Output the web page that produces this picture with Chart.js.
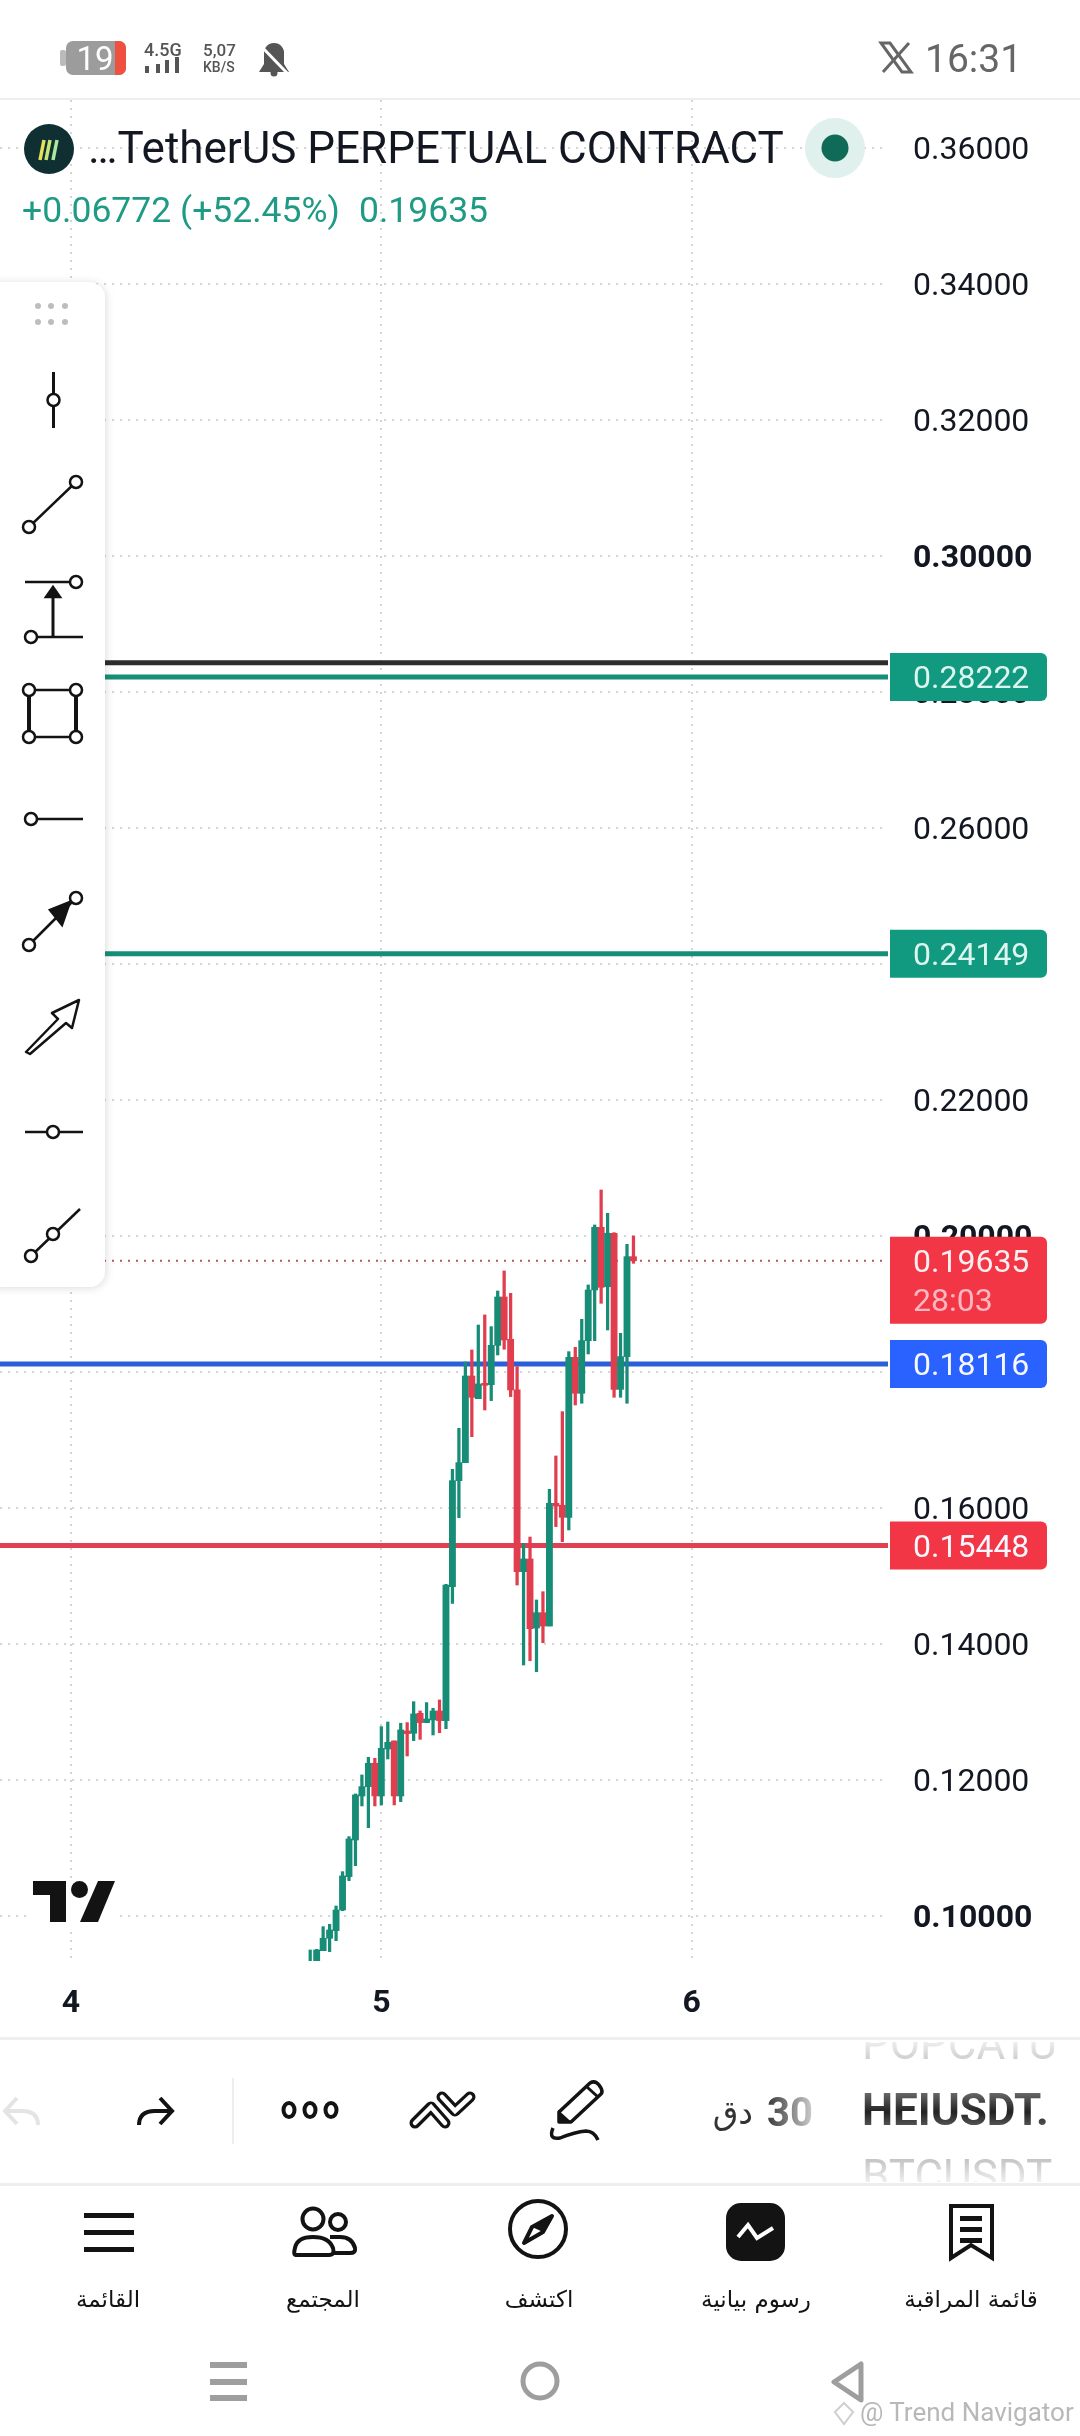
<!DOCTYPE html>
<html>
<head>
    <meta charset="utf-8" lang="ar">
    <title>TetherUS PERPETUAL CONTRACT</title>
    <script src="https://cdn.jsdelivr.net/npm/chart.js@4/dist/chart.umd.min.js"></script>
    <style>
        html, body { margin: 0; padding: 0; background: #fff; }
        #page { position: relative; width: 1080px; height: 2436px; overflow: hidden; font-family: Roboto, sans-serif; }
        #priceChart { position: absolute; left: 0; top: 0; }
        #chrome { position: absolute; left: 0; top: 0; pointer-events: none; }
    </style>
</head>
<body>
<div id="page">
    <canvas id="priceChart" width="1080" height="2038"></canvas>
    <svg id="chrome" width="1080" height="2436" viewBox="0 0 1080 2436">
        <defs>
            <linearGradient id="fadeTf" gradientUnits="userSpaceOnUse" x1="765" y1="0" x2="818" y2="0">
                <stop offset="0" stop-color="#333"/><stop offset="1" stop-color="#ddd"/>
            </linearGradient>
            <linearGradient id="fadePick" gradientUnits="userSpaceOnUse" x1="0" y1="2042" x2="0" y2="2182">
                <stop offset="0" stop-color="#eee"/><stop offset="0.2" stop-color="#bbb"/>
                <stop offset="0.5" stop-color="#222"/>
                <stop offset="0.8" stop-color="#bbb"/><stop offset="1" stop-color="#eee"/>
            </linearGradient>
            <clipPath id="pickClip"><rect x="850" y="2042" width="220" height="140"/></clipPath>
            <filter id="soft" x="-30%" y="-5%" width="160%" height="110%">
                <feDropShadow dx="1" dy="1" stdDeviation="4" flood-color="#000" flood-opacity="0.14"/>
            </filter>
        </defs>

        <!-- status bar -->
        <rect x="60" y="50" width="6" height="16" rx="2" fill="#bbb"/>
        <rect x="66" y="41" width="60" height="34" rx="7" fill="#9c9c9c"/>
        <path d="M115 41 h4 a7 7 0 0 1 7 7 v20 a7 7 0 0 1 -7 7 h-4 z" fill="#f0503f"/>
        <text x="95" y="70" font-size="33" fill="#fff" text-anchor="middle">19</text>
        <text x="144" y="56" font-size="18" font-weight="500" fill="#555">4.5G</text>
        <g fill="#555">
            <rect x="145" y="66" width="4" height="7"/><rect x="156" y="64" width="4" height="9"/>
            <rect x="165" y="60" width="4" height="13"/><rect x="175" y="57" width="4" height="16"/>
        </g>
        <text x="203" y="56" font-size="17" font-weight="500" fill="#555">5,07</text>
        <text x="203" y="72" font-size="14" font-weight="500" fill="#555">KB/S</text>
        <path d="M259 72 h30 l-5 -8 v-10 a10 10 0 0 0 -10 -11 a10 10 0 0 0 -10 11 v10 z" fill="#555"/>
        <line x1="258" y1="43" x2="288" y2="74" stroke="#fff" stroke-width="3"/>
        <circle cx="274" cy="73" r="3.5" fill="#555"/>
        <path d="M881 43 h9 l21 29 h-9 z" fill="none" stroke="#666" stroke-width="3"/>
        <line x1="909" y1="43" x2="883" y2="72" stroke="#666" stroke-width="3"/>
        <text x="925" y="72" font-size="39" fill="#666">16:31</text>
        <rect x="0" y="98" width="1080" height="2" fill="#eeeeee"/>

        <!-- header -->
        <circle cx="49" cy="149" r="25" fill="#0f2f33"/>
        <g stroke-width="3.5" fill="none">
            <line x1="44" y1="140" x2="40" y2="160" stroke="#e6e35a"/>
            <line x1="50" y1="140" x2="46" y2="160" stroke="#c7e878"/>
            <line x1="57" y1="140" x2="53" y2="160" stroke="#a8e8a0"/>
        </g>
        <text x="88" y="163" font-size="44" fill="#131722">…TetherUS PERPETUAL CONTRACT</text>
        <circle cx="835" cy="148" r="30" fill="#dff0ed"/>
        <circle cx="835" cy="148" r="13.5" fill="#0f6b57"/>
        <text x="22" y="222" font-size="35.5" fill="#1f9a84">+0.06772 (+52.45%)</text>
        <text x="359" y="222" font-size="35.5" fill="#1f9a84">0.19635</text>

        <!-- drawing toolbar -->
        <rect x="-20" y="282" width="125" height="1005" rx="16" fill="#fff" filter="url(#soft)"/>
        <g fill="#bdbdbd">
            <circle cx="38" cy="306" r="3"/><circle cx="51" cy="306" r="3"/><circle cx="65" cy="306" r="3"/>
            <circle cx="38" cy="322" r="3"/><circle cx="51" cy="322" r="3"/><circle cx="65" cy="322" r="3"/>
        </g>
        <g stroke="#131313" stroke-width="2.5" fill="#fff">
            <line x1="53.5" y1="372" x2="53.5" y2="428" stroke-width="3"/><circle cx="53.5" cy="400" r="6"/>
            <line x1="29" y1="527" x2="76" y2="482"/><circle cx="29" cy="527" r="6"/><circle cx="76" cy="482" r="6"/>
            <line x1="25" y1="582" x2="76" y2="582"/><circle cx="76" cy="582" r="6"/>
            <line x1="31" y1="637" x2="83" y2="637"/><circle cx="31" cy="637" r="6"/>
            <line x1="53" y1="637" x2="53" y2="595" stroke-width="3"/>
            <path d="M46 597 L53 587 L60 597 Z" fill="#131313"/>
            <rect x="29" y="690" width="47" height="47" fill="none"/>
            <line x1="29" y1="690" x2="29" y2="737" stroke-width="4"/><line x1="76" y1="690" x2="76" y2="737" stroke-width="4"/>
            <circle cx="29" cy="690" r="6"/><circle cx="76" cy="690" r="6"/><circle cx="29" cy="737" r="6"/><circle cx="76" cy="737" r="6"/>
            <line x1="31" y1="819" x2="83" y2="819"/><circle cx="31" cy="819" r="6"/>
            <line x1="29" y1="945" x2="76" y2="898"/><circle cx="29" cy="945" r="6"/>
            <path d="M50 910 L70 902 L62 925 Z" fill="#131313"/><circle cx="76" cy="898" r="6"/>
            <path d="M26 1052 L58 1019 L52 1013 L79 1000 L72 1028 L66 1023 L30 1054 Z" stroke-linejoin="round"/>
            <line x1="25" y1="1132" x2="83" y2="1132"/><circle cx="53" cy="1132" r="6"/>
            <line x1="31" y1="1256" x2="80" y2="1209"/><circle cx="31" cy="1256" r="6"/><circle cx="53" cy="1234" r="6"/>
        </g>

        <!-- TV logo -->
        <rect x="28" y="1878" width="92" height="48" fill="#fff"/>
        <g fill="#131313">
            <path d="M33 1881 H66 V1922 H50 V1895 H33 Z"/>
            <circle cx="79.5" cy="1889.5" r="8.5"/>
            <path d="M98 1881 H115 L98 1922 H80 Z"/>
        </g>

        <!-- lower toolbar -->
        <rect x="0" y="2037" width="1080" height="3" fill="#eeeeee"/>
        <g fill="none" stroke="#131313" stroke-width="4">
            <path d="M38 2125 Q38 2111 22 2111 L6 2111 M17 2098 L5 2111 L17 2124" stroke="#e4e4e4"/>
            <path d="M139 2125 Q139 2111 155 2111 L171 2111 M160 2098 L172 2111 L160 2124"/>
            <line x1="233" y1="2078" x2="233" y2="2144" stroke="#eeeeee" stroke-width="2"/>
            <ellipse cx="289" cy="2110" rx="5.5" ry="7"/><ellipse cx="310" cy="2110" rx="5.5" ry="7"/><ellipse cx="331" cy="2110" rx="5.5" ry="7"/>
            <path d="M415 2123 L431 2107 L445 2123" stroke-width="11" stroke-linejoin="round" stroke-linecap="round"/>
            <path d="M415 2123 L431 2107 L445 2123" stroke-width="4.5" stroke="#fff" stroke-linecap="round"/>
            <path d="M442 2097 L455 2111 L470 2097" stroke-width="11" stroke-linejoin="round" stroke-linecap="round"/>
            <path d="M442 2097 L455 2111 L470 2097" stroke-width="4.5" stroke="#fff" stroke-linecap="round"/>
            <path d="M559 2122 L559 2112 L590 2083 Q595 2080 599 2085 L601 2088 Q603 2092 601 2094 L571 2122 Z" stroke-linejoin="round" stroke-width="3.5"/>
            <path d="M587 2087 L598 2097" stroke-width="3"/>
            <path d="M559 2122 L559 2112 L570 2122 Z" fill="#131313" stroke-width="2"/>
            <path d="M553 2128 Q548 2140 560 2138 Q575 2132 586 2131 Q594 2131 598 2140" stroke-width="3.5"/>
        </g>
        <text x="767" y="2126" font-size="40" font-weight="700" fill="url(#fadeTf)">30</text>
        <text x="753" y="2124" font-size="33" fill="#333" text-anchor="start" font-family="DejaVu Sans" direction="rtl">دق</text>
        <g clip-path="url(#pickClip)" font-size="44" fill="url(#fadePick)">
            <text x="862" y="2059">POPCATU</text>
            <text x="862" y="2125" font-weight="700">HEIUSDT.</text>
            <text x="862" y="2191">BTCUSDT</text>
        </g>
        <rect x="0" y="2183" width="1080" height="3" fill="#eeeeee"/>

        <!-- nav -->
        <g fill="#131313">
            <rect x="84" y="2213" width="50" height="5"/><rect x="84" y="2230" width="50" height="5"/><rect x="84" y="2247" width="50" height="5"/>
            <rect x="726" y="2203" width="59" height="58" rx="15"/>
            <rect x="960" y="2216" width="22" height="5"/><rect x="960" y="2227" width="22" height="5"/><rect x="960" y="2238" width="22" height="5"/>
        </g>
        <g fill="none" stroke="#131313" stroke-width="4">
            <circle cx="313" cy="2219" r="10.5"/><circle cx="338" cy="2222" r="8"/>
            <path d="M296 2255 H329 Q335 2255 333 2248 Q329 2237 313 2237 Q297 2237 295 2248 Q293 2255 296 2255 Z"/>
            <path d="M330 2237 H340 Q352 2237 355 2248 Q356 2253 350 2253 H334"/>
            <circle cx="538" cy="2229" r="28"/>
            <path d="M552 2216 L532 2227 L524 2243 L543 2232 Z" stroke-linejoin="round"/>
            <path d="M951 2206 H992 V2258 L971 2245 L951 2258 Z"/>
        </g>
        <path d="M552 2216 L532 2227 L543 2232 Z" fill="#131313"/>
        <path d="M738 2237 L748 2225 L757 2238 L773 2228" fill="none" stroke="#fff" stroke-width="4"/>
        <g font-family="DejaVu Sans" font-size="23" fill="#131313" text-anchor="middle" direction="rtl">
            <text x="108" y="2307">القائمة</text>
            <text x="323" y="2307">المجتمع</text>
            <text x="539" y="2307">اكتشف</text>
            <text x="756" y="2307">رسوم بيانية</text>
            <text x="971" y="2307">قائمة المراقبة</text>
        </g>

        <!-- system nav -->
        <g fill="#9e9e9e">
            <rect x="210" y="2362" width="37" height="6"/><rect x="210" y="2379" width="37" height="6"/><rect x="210" y="2395" width="37" height="6"/>
        </g>
        <ellipse cx="540" cy="2381" rx="17" ry="17" fill="none" stroke="#9e9e9e" stroke-width="5"/>
        <path d="M861 2364 V2400 L834 2382 Z" fill="none" stroke="#9e9e9e" stroke-width="5" stroke-linejoin="round"/>
        <path d="M835 2412 L844 2403 L853 2412 L844 2424 Z" fill="none" stroke="#cfcfcf" stroke-width="2"/>
        <text x="860" y="2421" font-size="26" fill="#b8b8b8">@ Trend Navigator</text>
    </svg>
</div>

<script>
    // x axis is counted in half-hour candles since the open of day 4
    const candleSlots = [37, 38, 39, 40, 41, 42, 43, 44, 45, 46, 47, 48, 49, 50, 51, 52, 53, 54, 55, 56, 57, 58, 59, 60, 61, 62, 63, 64, 65, 66, 67, 68, 69, 70, 71, 72, 73, 74, 75, 76, 77, 78, 79, 80, 81, 82, 83, 84, 85, 86, 87];
    const opens = [0.0926, 0.0926, 0.0949, 0.09672, 0.09785, 0.10088, 0.10579, 0.11118, 0.11765, 0.11902, 0.12246, 0.11765, 0.12456, 0.12574, 0.11765, 0.12721, 0.12687, 0.12981, 0.12844, 0.12883, 0.13015, 0.12872, 0.14843, 0.16402, 0.16667, 0.17941, 0.17608, 0.17834, 0.17814, 0.18392, 0.19103, 0.18481, 0.17736, 0.15063, 0.1525, 0.14235, 0.1446, 0.14264, 0.16069, 0.1604, 0.15863, 0.18216, 0.17687, 0.18461, 0.19206, 0.20128, 0.19255, 0.2004, 0.17745, 0.18226, 0.19696];
    const closes = [0.0926, 0.095, 0.09672, 0.09794, 0.10088, 0.10589, 0.11133, 0.1178, 0.11902, 0.12246, 0.11765, 0.12466, 0.12554, 0.11765, 0.12736, 0.12682, 0.12971, 0.12844, 0.12897, 0.13015, 0.12873, 0.14867, 0.16402, 0.16667, 0.17941, 0.17628, 0.17824, 0.17804, 0.18392, 0.19103, 0.18471, 0.17736, 0.15063, 0.1525, 0.14225, 0.1446, 0.14264, 0.16069, 0.16029, 0.15863, 0.18216, 0.17687, 0.18461, 0.19206, 0.20128, 0.19245, 0.2004, 0.17745, 0.18226, 0.19696, 0.19635];
    const highs = [0.095, 0.0951, 0.09843, 0.09878, 0.10147, 0.10652, 0.11167, 0.11795, 0.12074, 0.12334, 0.12319, 0.12785, 0.12853, 0.12574, 0.12834, 0.12844, 0.13152, 0.13015, 0.13138, 0.13054, 0.13177, 0.14877, 0.16569, 0.17172, 0.18147, 0.18324, 0.18691, 0.18839, 0.18667, 0.19191, 0.19486, 0.19157, 0.18079, 0.1548, 0.15573, 0.14647, 0.14769, 0.16275, 0.16765, 0.17417, 0.18299, 0.18363, 0.18775, 0.1928, 0.20162, 0.20677, 0.20334, 0.20049, 0.18569, 0.19878, 0.2];
    const lows = [0.0926, 0.0926, 0.0949, 0.09476, 0.09637, 0.10078, 0.1052, 0.1074, 0.11618, 0.11299, 0.11618, 0.11633, 0.12309, 0.11633, 0.11682, 0.12353, 0.12579, 0.12598, 0.12844, 0.12662, 0.12696, 0.12754, 0.14598, 0.15858, 0.16667, 0.17049, 0.17608, 0.17441, 0.17579, 0.1825, 0.18334, 0.17638, 0.14867, 0.13691, 0.13754, 0.13593, 0.14019, 0.14264, 0.15726, 0.15505, 0.15677, 0.17515, 0.1754, 0.18265, 0.18461, 0.1901, 0.18618, 0.17628, 0.17628, 0.1754, 0.19598];

    const dayTicks = [0, 48, 96];
    const dayLabels = ["4", "5", "6"];
    const priceTicks = [0.10, 0.12, 0.14, 0.16, 0.18, 0.20, 0.22, 0.24, 0.26, 0.28, 0.30, 0.32, 0.34, 0.36];
    const boldPrices = [0.10, 0.20, 0.30];

    // horizontal drawings on the chart
    const lineValues = [0.2843, 0.28222, 0.24149, 0.18116, 0.15448];
    const lineColors = ["#2d2d2d", "#178f78", "#178f78", "#2b5fd9", "#df4052"];
    const lastPrice = 0.19635;

    // price tags on the axis
    const tagValues = [0.28222, 0.24149, 0.18116, 0.15448];
    const tagColors = ["#129a80", "#129a80", "#2962ff", "#f23645"];
    const lastTagTimer = "28:03";

    const GREEN = "#178d77";
    const RED = "#e03e4e";
    const xMin = -10.98, xMax = 126.37;
    const yMin = 0.09338, yMax = 0.36706;

    function candleColors() {
        return opens.map((o, i) => closes[i] >= o ? GREEN : RED);
    }

    function flatLine(value, color, width, dash) {
        return {
            type: "line",
            data: [{ x: xMin, y: value }, { x: xMax, y: value }],
            borderColor: color,
            borderWidth: width,
            borderDash: dash || [],
            pointRadius: 0,
            order: 5
        };
    }

    function drawTag(ctx, x, y, w, h, color) {
        ctx.fillStyle = color;
        ctx.beginPath();
        ctx.roundRect(x, y, w, h, [0, 6, 6, 0]);
        ctx.fill();
    }

    const tagPlugin = {
        id: "tags",
        // digits sit a little high with the middle baseline, so nudge the price labels down
        beforeDraw(chart) {
            const yScale = chart.scales.y;
            const drawLabels = yScale.drawLabels;
            yScale.drawLabels = function (area) {
                chart.ctx.save();
                chart.ctx.translate(0, 3);
                drawLabels.call(yScale, area);
                chart.ctx.restore();
            };
        },
        afterDraw(chart) {
            const ctx = chart.ctx;
            const yScale = chart.scales.y;
            ctx.save();
            ctx.font = "32px Roboto";
            ctx.textBaseline = "middle";
            tagValues.forEach((v, i) => {
                const py = yScale.getPixelForValue(v);
                drawTag(ctx, 890, py - 24, 157, 48, tagColors[i]);
                ctx.fillStyle = i < 2 ? "#dcf5ef" : "#f7f8ff";
                ctx.fillText(v.toFixed(5), 913, py + 3);
            });
            const py = yScale.getPixelForValue(lastPrice);
            drawTag(ctx, 890, py - 24, 157, 87, "#f23645");
            ctx.fillStyle = "#fdeef0";
            ctx.fillText(lastPrice.toFixed(5), 913, py + 3);
            ctx.fillStyle = "#fbb8c0";
            ctx.fillText(lastTagTimer, 913, py + 42);
            ctx.restore();
        }
    };

    const colors = candleColors();
    const datasets = [
        {
            label: "wick",
            data: candleSlots.map((s, i) => ({ x: s, y: [lows[i], highs[i]] })),
            backgroundColor: colors,
            barThickness: 2.6,
            grouped: false,
            order: 2
        },
        {
            label: "body",
            data: candleSlots.map((s, i) => ({ x: s, y: [opens[i], closes[i]] })),
            backgroundColor: colors,
            barThickness: 6.2,
            grouped: false,
            order: 1
        },
        flatLine(lastPrice, "#c8505c", 2, [2, 6])
    ];
    lineValues.forEach((v, i) => datasets.push(flatLine(v, lineColors[i], 5)));

    new Chart(document.getElementById("priceChart"), {
        type: "bar",
        data: { datasets: datasets },
        plugins: [tagPlugin],
        options: {
            responsive: false,
            devicePixelRatio: 1,
            animation: false,
            layout: { padding: { top: 100, left: 0, right: 0, bottom: 0 } },
            plugins: { legend: { display: false }, tooltip: { enabled: false } },
            scales: {
                x: {
                    type: "linear",
                    min: xMin,
                    max: xMax,
                    offset: false,
                    afterBuildTicks: s => { s.ticks = dayTicks.map(v => ({ value: v })); },
                    afterFit: s => { s.height = 77; },
                    grid: { color: "#d4d4d4", lineWidth: 2, drawTicks: false, offset: false },
                    border: { display: false, dash: [2, 6] },
                    ticks: {
                        padding: 24,
                        maxRotation: 0,
                        autoSkip: false,
                        color: "#131722",
                        font: { family: "Roboto", size: 32, weight: "bold" },
                        callback: v => dayLabels[dayTicks.indexOf(v)]
                    }
                },
                y: {
                    position: "right",
                    min: yMin,
                    max: yMax,
                    afterBuildTicks: s => { s.ticks = priceTicks.map(v => ({ value: v })); },
                    afterFit: s => { s.width = 192; },
                    grid: { color: "#d4d4d4", lineWidth: 2, drawTicks: false },
                    border: { display: false, dash: [2, 6] },
                    ticks: {
                        padding: 25,
                        autoSkip: false,
                        color: "#131722",
                        font: ctx => ({
                            family: "Roboto",
                            size: 32,
                            weight: ctx.tick && boldPrices.includes(ctx.tick.value) ? "bold" : "normal"
                        }),
                        callback: v => v.toFixed(5)
                    }
                }
            }
        }
    });
</script>
</body>
</html>
